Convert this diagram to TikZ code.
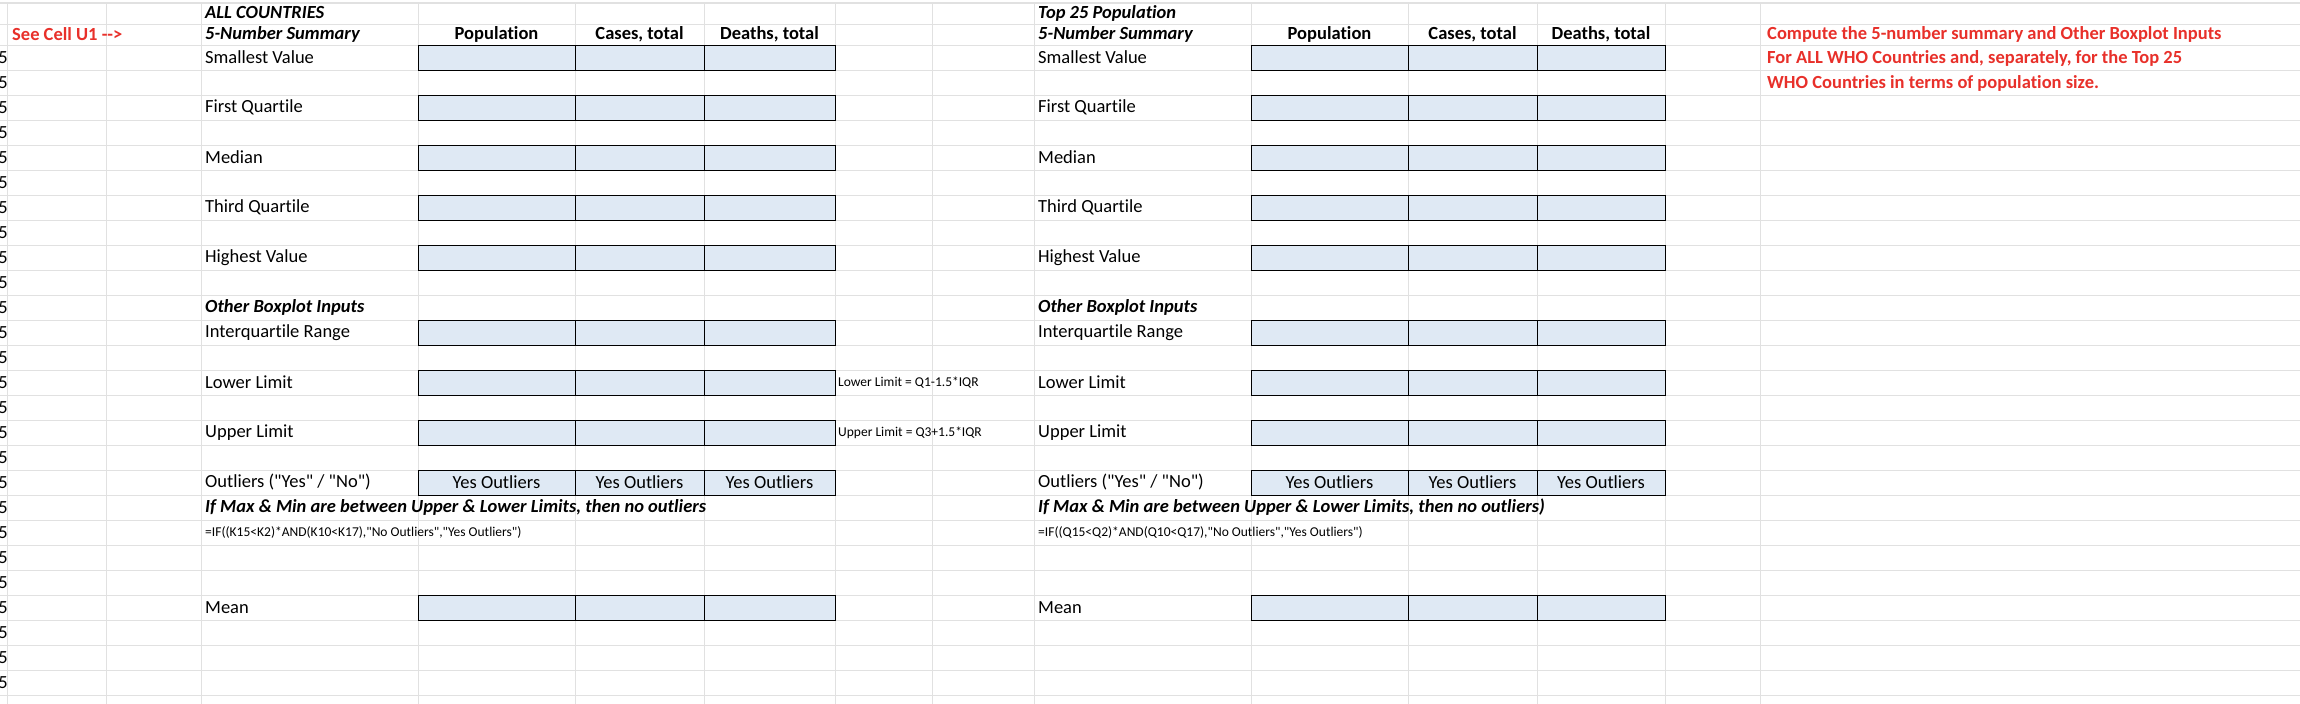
\documentclass[tikz,border=0pt]{standalone}
\usepackage{fontspec}
\setmainfont{Carlito}[Ligatures={NoCommon},Mapping=]
\definecolor{gridc}{HTML}{E1E1E1}
\definecolor{cellc}{HTML}{DFE9F4}
\definecolor{redc}{HTML}{E8302A}
\newcommand{\dq}{\char34 }
\begin{document}
\begin{tikzpicture}[x=1pt,y=-1pt,
  txt/.style={anchor=west,inner sep=0pt,font=\fontsize{18.5}{19}\selectfont},
  hdr/.style={inner sep=0pt,font=\fontsize{18.5}{19}\selectfont\bfseries},
  bi/.style={txt,font=\fontsize{18.5}{19}\selectfont\bfseries\itshape},
  small/.style={anchor=west,inner sep=0pt,font=\fontsize{13.5}{14}\selectfont},
  redt/.style={anchor=west,inner sep=0pt,text=redc,font=\fontsize{18.5}{19}\selectfont\bfseries},
  cellbox/.style={draw=black,fill=cellc,line width=1pt}]
\useasboundingbox (0,0) rectangle (2300,704);
\fill[white] (0,0) rectangle (2300,704);
% grid
\foreach \x in {7,106,201,418,575,704,835,932,1034,1251,1408,1537,1665,1760}
  \draw[gridc,line width=1pt] (\x,4) -- (\x,704);
\draw[gridc,line width=1pt] (0,24) -- (2300,24);
\draw[gridc,line width=2pt] (0,3) -- (2300,3);
\foreach \k in {0,...,26} \draw[gridc,line width=1pt] (0,45+25*\k) -- (2300,45+25*\k);
% clipped left digits
\begin{scope}
\clip (0,0) rectangle (6,704);
\foreach \k in {0,...,25} \node[txt,anchor=east] (d\k) at (8,57.5+25*\k) {5};
\end{scope}
% boxes
\foreach \k in {0,2,4,6,8,11,13,15,17,22}{
  \foreach \a/\b in {418/575,575/704,704/835,1251/1408,1408/1537,1537/1665}
    \draw[cellbox] (\a,45+25*\k) rectangle (\b,70+25*\k);
}
\foreach \c/\n in {496.5/a,639.5/b,769.5/c,1329.5/d,1472.5/e,1601/f}
  \node[txt,anchor=center] (yo\n) at (\c,57.5+25*17) {Yes Outliers};
% headers
\node[redt] (see) at (12,34) {See Cell U1 -{}-{}>};
\node[bi] (allc) at (205,13) {ALL COUNTRIES};
\node[bi] (fns) at (205,34) {5-Number Summary};
\node[bi] (top) at (1038,13) {Top 25 Population};
\node[bi] (fns2) at (1038,34) {5-Number Summary};
\foreach \c/\t/\n in {496.5/Population/a,639.5/{Cases, total}/b,769.5/{Deaths, total}/c,1329.5/Population/d,1472.5/{Cases, total}/e,1601/{Deaths, total}/f}
  \node[hdr] (h\n) at (\c,34) {\t};
\foreach \x/\s in {205/L,1038/R}{
  \node[txt] (sv\s) at (\x,57.5) {Smallest Value};
  \node[txt] (fq\s) at (\x,107.5) {First Quartile};
  \node[txt] (md\s) at (\x,157.5) {Median};
  \node[txt] (tq\s) at (\x,207.5) {Third Quartile};
  \node[txt] (hv\s) at (\x,257.5) {Highest Value};
  \node[bi] (ob\s) at (\x,307.5) {Other Boxplot Inputs};
  \node[txt] (iq\s) at (\x,332.5) {Interquartile Range};
  \node[txt] (ll\s) at (\x,382.5) {Lower Limit};
  \node[txt] (ul\s) at (\x,432.5) {Upper Limit};
  \node[txt] (ou\s) at (\x,482.5) {Outliers (\dq Yes\dq\ / \dq No\dq)};
  \node[txt] (mn\s) at (\x,607.5) {Mean};
}
\node[bi] (ifL) at (205,507.5) {If Max \& Min are between Upper \& Lower Limits, then no outliers};
\node[bi] (ifR) at (1038,507.5) {If Max \& Min are between Upper \& Lower Limits, then no outliers)};
\node[small] (fL) at (205,532.5) {=IF((K15<K2)*AND(K10<K17),\dq No Outliers\dq,\dq Yes Outliers\dq)};
\node[small] (fR) at (1038,532.5) {=IF((Q15<Q2)*AND(Q10<Q17),\dq No Outliers\dq,\dq Yes Outliers\dq)};
\node[small] (llf) at (838,382.5) {Lower Limit = Q1-1.5*IQR};
\node[small] (ulf) at (838,432.5) {Upper Limit = Q3+1.5*IQR};
\node[redt] (r1) at (1767,34) {Compute the 5-number summary and Other Boxplot Inputs};
\node[redt] (r2) at (1767,58) {For ALL WHO Countries and, separately, for the Top 25};
\node[redt] (r3) at (1767,83) {WHO Countries in terms of population size.};
\end{tikzpicture}
\end{document}
